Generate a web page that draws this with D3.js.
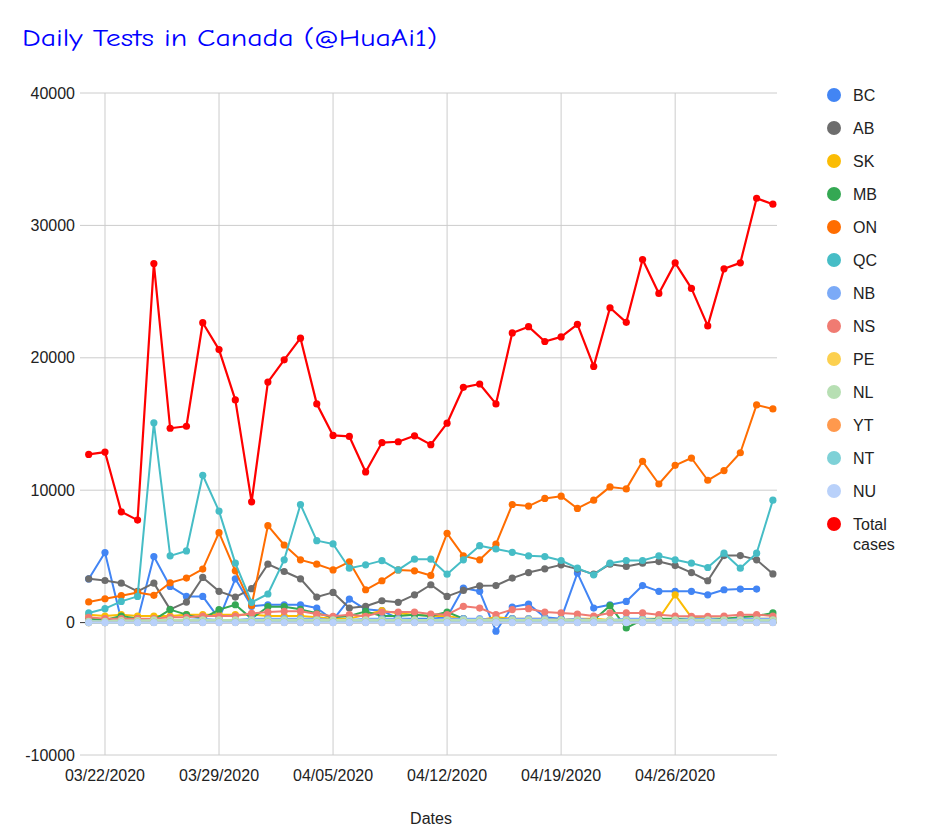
<!DOCTYPE html>
<html><head><meta charset="utf-8">
<script src="https://cdn.jsdelivr.net/npm/d3@7"></script>
<style>body{margin:0;background:#fff}</style>
</head><body>
<script>
const startDate = "2020-03-21";
const nDays = 43;
const tickLabels = ["03/22/2020","03/29/2020","04/05/2020","04/12/2020","04/19/2020","04/26/2020"];
const yTicks = [-10000, 0, 10000, 20000, 30000, 40000];

const BC = [3300,5290,200,200,4990,2730,1980,1980,300,3310,1230,1350,1350,1350,1100,200,1780,1000,900,300,300,300,400,2610,2360,-650,1180,1400,400,300,3740,1100,1350,1600,2800,2360,2360,2360,2100,2480,2530,2530,null];
const AB = [3310,3180,2980,2360,2980,1000,1550,3410,2360,1930,2560,4410,3860,3310,1930,2280,1100,1230,1650,1530,2100,2860,1980,2430,2780,2800,3360,3780,4060,4360,4040,3660,4410,4240,4490,4610,4310,3780,3160,5060,5060,4740,3680];
const SK = [600,500,600,500,500,500,600,600,600,600,600,500,500,500,400,300,300,600,900,700,600,500,500,300,200,400,300,300,300,200,300,300,200,200,300,300,2100,400,300,300,300,300,300];
const MB = [300,200,500,300,200,980,600,300,980,1350,300,1200,1200,1000,700,400,500,850,500,500,600,500,800,300,200,200,300,200,200,200,200,200,1280,-400,200,300,300,300,300,300,400,500,730];
const ON = [1560,1800,2030,2280,2060,3010,3360,4040,6790,3910,1300,7320,5860,4740,4410,3980,4590,2480,3160,3980,3910,3560,6740,5040,4740,5920,8920,8800,9380,9550,8620,9250,10250,10100,12180,10470,11880,12430,10750,11480,12830,16440,16140];
const QC = [730,1050,1600,1980,15090,5040,5410,11130,8420,4490,1530,2160,4740,8920,6190,5940,4110,4360,4680,3980,4790,4790,3660,4740,5810,5560,5310,5040,4990,4690,4110,3610,4490,4690,4690,5040,4740,4490,4160,5240,4110,5240,9250];
const NB = [100,100,200,200,100,200,200,300,200,200,300,300,300,300,300,200,200,300,300,300,200,200,300,300,300,200,300,300,300,200,300,200,200,300,300,200,200,300,300,200,300,300,300];
const NS = [400,300,300,300,300,400,400,500,500,500,700,800,850,850,650,480,600,480,800,800,800,650,600,1230,1100,600,980,1050,800,730,650,500,730,730,730,600,500,480,480,500,600,600,500];
const PE = [0,50,50,50,50,50,50,50,50,50,50,50,50,50,50,50,50,50,50,50,50,50,50,50,50,50,50,50,50,50,50,50,50,50,50,50,50,50,50,50,50,50,50];
const NL = [100,100,150,150,200,200,200,200,200,200,200,200,200,200,200,200,200,200,200,200,200,200,200,200,200,200,200,200,200,200,200,200,200,200,200,200,200,200,200,200,200,200,200];
const YT = [0,0,10,10,10,10,10,10,10,10,10,10,10,10,10,10,10,10,10,10,10,10,10,10,10,10,10,10,10,10,10,10,10,10,10,10,10,10,10,10,10,10,10];
const NT = [0,0,10,10,10,10,10,20,20,20,20,20,20,20,20,20,20,20,20,20,20,20,20,20,20,20,20,20,20,20,20,20,20,20,20,20,20,20,20,20,20,20,20];
const NU = [0,0,0,0,0,0,0,0,0,0,0,0,0,0,0,0,0,0,0,0,0,0,0,0,0,0,0,0,0,0,0,0,0,0,0,0,0,0,0,0,0,0,0];
const Total = [12700,12880,8370,7740,27120,14680,14830,22650,20620,16820,9120,18170,19850,21480,16520,14140,14060,11380,13590,13660,14110,13440,15060,17770,18020,16520,21880,22350,21230,21580,22530,19350,23780,22680,27420,24860,27170,25240,22410,26720,27170,32050,31600];

const seriesNames = ["BC","AB","SK","MB","ON","QC","NB","NS","PE","NL","YT","NT","NU","Total cases"];
const seriesValues = [BC,AB,SK,MB,ON,QC,NB,NS,PE,NL,YT,NT,NU,Total];
const seriesColors = ["#4285f4","#6d6d6d","#fbbc04","#34a853","#ff6d01","#46bdc6","#7baaf7","#f07b72","#fcd04f","#b7dfb3","#ff994d","#7ed1d7","#b9d1fa","#ff0000"];

const W = 939, H = 838;
const svg = d3.select("body").append("svg").attr("width", W).attr("height", H)
  .style("font-family", "Arial, 'Liberation Sans', sans-serif");

const parse = d3.timeParse("%Y-%m-%d");
const parseTick = d3.timeParse("%m/%d/%Y");
const d0 = parse(startDate);
const dates = d3.range(nDays).map(i => d3.timeDay.offset(d0, i));

const x = d3.scaleTime().domain([dates[0], dates[nDays-1]]).range([88.7, 772.9]);
const y = d3.scaleLinear().domain([-10000, 40000]).range([755, 93]);

// title
svg.append("text").attr("x", 22).attr("y", 46)
  .attr("fill", "#0000ff").style("font-family", "'Comic Sans MS', 'Comic Neue', cursive, 'DejaVu Sans'")
  .style("font-size", "25px").attr("textLength", 415).attr("lengthAdjust", "spacingAndGlyphs")
  .text("Daily Tests in Canada (@HuaAi1)");

// horizontal grid
svg.append("g").selectAll("line").data(yTicks).join("line")
  .attr("x1", 80).attr("x2", 777)
  .attr("y1", d => y(d)).attr("y2", d => y(d))
  .attr("stroke", d => d === 0 ? "#333" : "#cccccc").attr("stroke-width", 1);

// vertical grid
const tickDates = tickLabels.map(parseTick);
svg.append("g").selectAll("line").data(tickDates).join("line")
  .attr("x1", d => x(d)).attr("x2", d => x(d))
  .attr("y1", y(40000)).attr("y2", y(-10000))
  .attr("stroke", "#cccccc").attr("stroke-width", 1);

// y labels
svg.append("g").selectAll("text").data(yTicks).join("text")
  .attr("x", 75).attr("y", d => y(d)).attr("dy", "0.35em")
  .attr("text-anchor", "end").attr("fill", "#222").style("font-size", "16px")
  .text(d => d);

// x labels
svg.append("g").selectAll("text").data(tickDates).join("text")
  .attr("x", d => x(d)).attr("y", 781)
  .attr("text-anchor", "middle").attr("fill", "#222").style("font-size", "16px")
  .text((d, i) => tickLabels[i]);

svg.append("text").attr("x", 431).attr("y", 824).attr("text-anchor", "middle")
  .attr("fill", "#222").style("font-size", "16px").text("Dates");

const line = d3.line().defined(d => d.v !== null).x(d => x(d.d)).y(d => y(d.v));
const g = svg.append("g");
seriesValues.forEach((vals, si) => {
  const pts = vals.map((v, i) => ({d: dates[i], v}));
  const col = seriesColors[si];
  const sg = g.append("g");
  sg.append("path").datum(pts).attr("d", line).attr("fill", "none")
    .attr("stroke", col).attr("stroke-width", si === 13 ? 2.2 : 2).attr("stroke-linejoin", "round");
  sg.selectAll("circle").data(pts.filter(p => p.v !== null)).join("circle")
    .attr("cx", p => x(p.d)).attr("cy", p => y(p.v)).attr("r", 3.6).attr("fill", col);
});

// legend
const lg = svg.append("g");
seriesNames.forEach((name, i) => {
  const cy = 95 + i * 33;
  lg.append("circle").attr("cx", 834).attr("cy", cy).attr("r", 7).attr("fill", seriesColors[i]);
  const t = lg.append("text").attr("x", 853).attr("y", cy).attr("dy", "0.35em")
    .attr("fill", "#222").style("font-size", "16px");
  if (name === "Total cases") {
    t.append("tspan").attr("x", 853).text("Total");
    t.append("tspan").attr("x", 853).attr("dy", "1.25em").text("cases");
  } else t.text(name);
});
</script>
</body></html>
